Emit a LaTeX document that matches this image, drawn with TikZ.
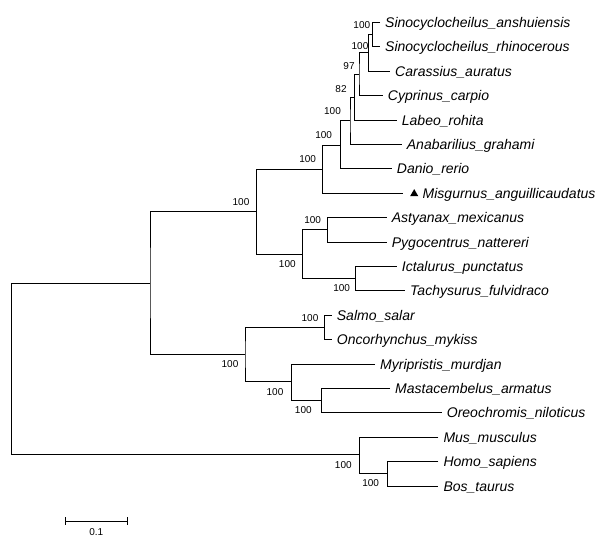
\documentclass[tikz,border=0pt]{standalone}
\usepackage{fontspec}
\setmainfont{Liberation Sans}
\usetikzlibrary{positioning,shapes.geometric}

\begin{document}
\begin{tikzpicture}[
    x=1pt,y=-1pt,
    branch/.style={draw=black,line width=1pt},
    taxon/.style={anchor=base west,inner sep=0pt,font=\fontsize{14}{16}\selectfont\itshape},
    support/.style={inner sep=0pt,font=\fontsize{10}{12}\selectfont}
]
\useasboundingbox[fill=white] (0,0) rectangle (605,543);
% Leaf tips and their names.
\foreach \tip/\x/\y/\txt in {
    sAns/380/22.5/Sinocyclocheilus\_anshuiensis,
    sRhi/380/46.9/Sinocyclocheilus\_rhinocerous,
    cAur/390/71.3/Carassius\_auratus,
    cCar/382.7/95.7/Cyprinus\_carpio,
    lRoh/396.7/120.1/Labeo\_rohita,
    aGra/401.7/144.5/Anabarilius\_grahami,
    dRer/391.7/168.9/Danio\_rerio,
    aMex/386.7/217.7/Astyanax\_mexicanus,
    pNat/386.7/242.1/Pygocentrus\_nattereri,
    iPun/396.7/266.5/Ictalurus\_punctatus,
    tFul/405/290.9/Tachysurus\_fulvidraco,
    sSal/331.7/315.3/Salmo\_salar,
    oMyk/331.7/339.7/Oncorhynchus\_mykiss,
    mMur/375/364.1/Myripristis\_murdjan,
    mArm/390/388.5/Mastacembelus\_armatus,
    oNil/441.7/412.9/Oreochromis\_niloticus,
    mMus/438.3/437.3/Mus\_musculus,
    hSap/438.3/461.7/Homo\_sapiens,
    bTau/438.3/486.1/Bos\_taurus}{
    \coordinate (\tip) at (\x,\y);
    \node[taxon] (t\tip) at ([xshift=5pt,yshift=-5pt]\tip) {\txt};
}
% The loach of this study, marked with a triangle.
\coordinate (mAng) at (403,193.3);
\node[regular polygon,regular polygon sides=3,fill=black,inner sep=0pt,minimum size=9.4pt]
    (mark) at (414.2,193.8) {};
\node[taxon] (tmAng) at (422.5,198.3) {Misgurnus\_anguillicaudatus};
% Internal nodes.
\coordinate (nSino) at (372.7,34.7);
\coordinate (nCara) at (368.3,53);
\coordinate (nCypr) at (359,74.3);
\coordinate (nLabe) at (354.3,97.2);
\coordinate (nAnab) at (350,120.9);
\coordinate (nDani) at (340.7,145);
\coordinate (nMisg) at (322.7,169.1);
\coordinate (nChar) at (327.7,229.5);
\coordinate (nSilu) at (355.7,278.5);
\coordinate (nOtop) at (302.3,254);
\coordinate (nOsta) at (256.7,211.7);
\coordinate (nSalm) at (324.3,327);
\coordinate (nPerc) at (321.7,400);
\coordinate (nAcan) at (291.7,381.5);
\coordinate (nEute) at (245,354.3);
\coordinate (nFish) at (150,283);
\coordinate (nHomo) at (387.7,473);
\coordinate (nMamm) at (359.3,454.5);
\coordinate (nRoot) at (11.3,369);
% Branches, parent/upper child/lower child.
\foreach \p/\a/\b in {
    nSino/sAns/sRhi, nCara/nSino/cAur, nCypr/nCara/cCar, nLabe/nCypr/lRoh,
    nAnab/nLabe/aGra, nDani/nAnab/dRer, nMisg/nDani/mAng,
    nChar/aMex/pNat, nSilu/iPun/tFul, nOtop/nChar/nSilu, nOsta/nMisg/nOtop,
    nSalm/sSal/oMyk, nPerc/mArm/oNil, nAcan/mMur/nPerc, nEute/nSalm/nAcan,
    nFish/nOsta/nEute, nHomo/hSap/bTau, nMamm/mMus/nHomo, nRoot/nFish/nMamm}{
    \draw[branch] (\a) -| (\p) |- (\b);
}
% Bootstrap values.
\node[support] (bSino) at (361.8,25) {100};
\node[support] (bCara) at (360,46) {100};
\node[support] (bCypr) at (349,65.7) {97};
\node[support] (bLabe) at (341,89.3) {82};
\node[support] (bAnab) at (332.5,111) {100};
\node[support] (bDani) at (323.7,135) {100};
\node[support] (bMisg) at (307.7,159.3) {100};
\node[support] (bOsta) at (241,202.3) {100};
\node[support] (bChar) at (312.7,220) {100};
\node[support] (bOtop) at (287.3,264) {100};
\node[support] (bSilu) at (341.7,288.3) {100};
\node[support] (bSalm) at (310,318.3) {100};
\node[support] (bEute) at (230,364.3) {100};
\node[support] (bAcan) at (275,391.7) {100};
\node[support] (bPerc) at (303.3,410) {100};
\node[support] (bMamm) at (343.3,465) {100};
\node[support] (bHomo) at (370.7,483.3) {100};
% Scale bar.
\coordinate (sbL) at (65.3,521);
\coordinate (sbR) at (127.3,521);
\draw[branch] (sbL) -- (sbR);
\draw[branch] ([yshift=4pt]sbL) -- ([yshift=-4pt]sbL);
\draw[branch] ([yshift=4pt]sbR) -- ([yshift=-4pt]sbR);
\node[support] (scaleLab) at (96.3,531.7) {0.1};
\end{tikzpicture}
\end{document}
